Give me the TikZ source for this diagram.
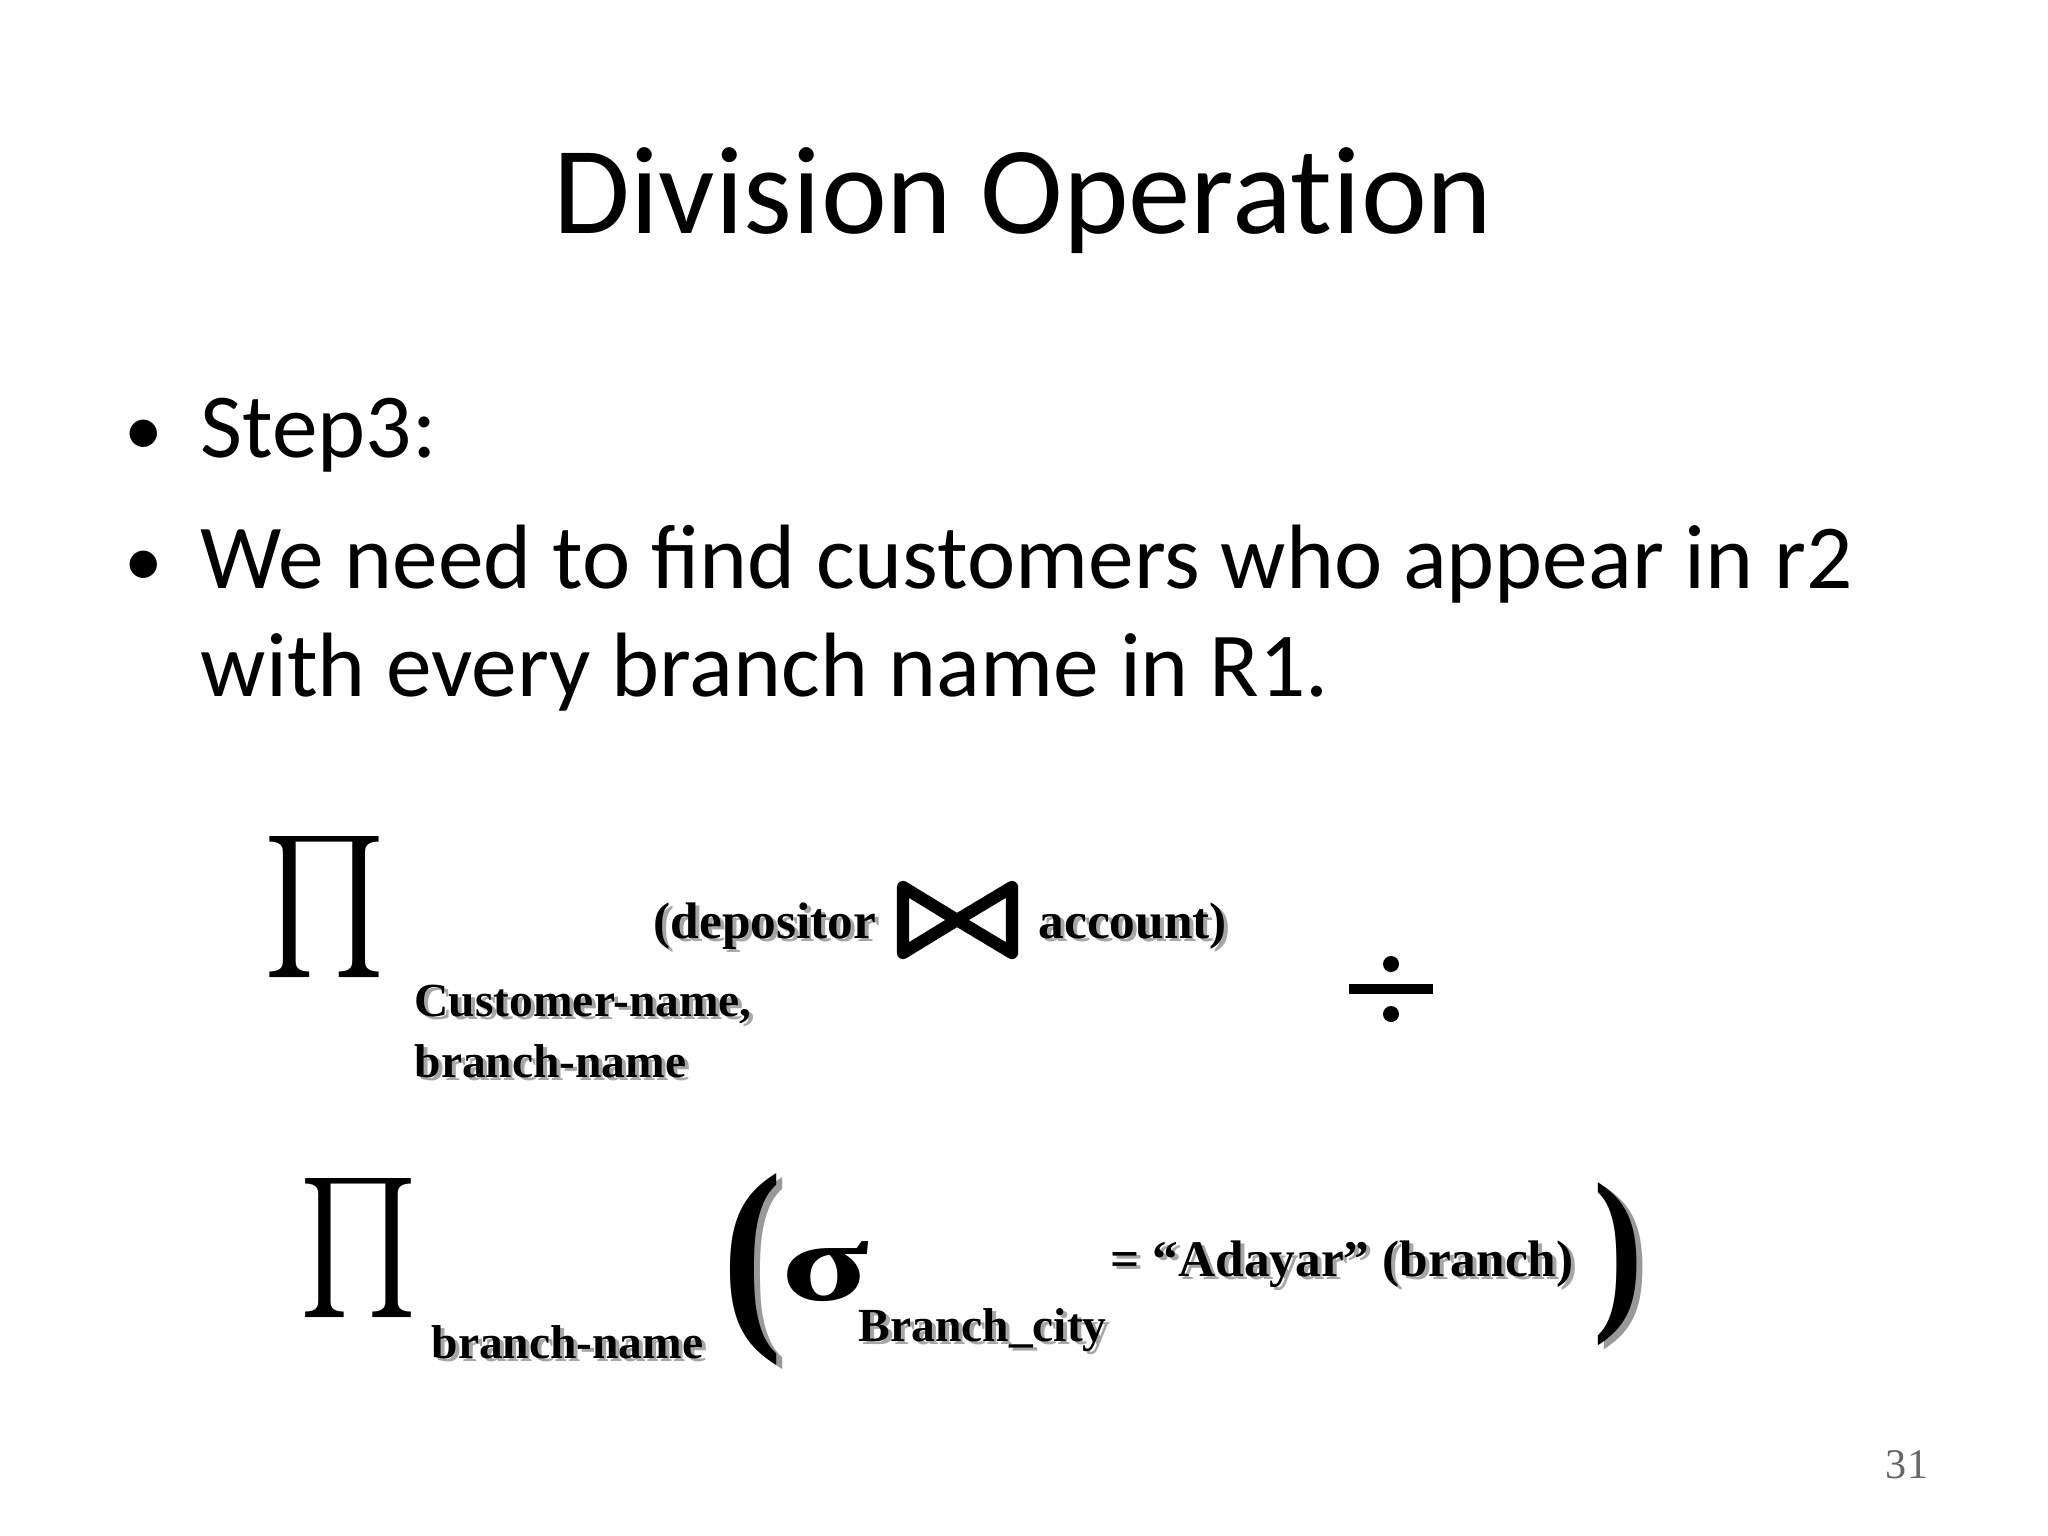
\documentclass[tikz,border=0pt]{standalone}
\usepackage{fontspec}
\setmainfont{Carlito}
\newfontfamily\tnr{Liberation Serif}
\newfontfamily\titlefont[RawFeature={-liga;-dlig;-clig}]{Carlito}
\begin{document}
\begin{tikzpicture}[x=0.01cm,y=-0.01cm,
  ftxt/.style={font=\tnr\bfseries\fontsize{13.5}{16}\selectfont,inner sep=0,anchor=base west},
  fshd/.style={ftxt,text=black!35},
  gtxt/.style={font=\tnr\bfseries\fontsize{14.6}{17}\selectfont,inner sep=0,anchor=base west},
  gshd/.style={gtxt,text=black!35},
  btxt/.style={font=\fontsize{26}{31}\selectfont,inner sep=0,anchor=base west},
  bul/.style={font=\fontsize{22}{26}\selectfont,inner sep=0,anchor=base west}]
\useasboundingbox (0,0) rectangle (2048,1536);
\node[font=\titlefont\fontsize{35.5}{43}\selectfont,inner sep=0,anchor=base] (title) at (1023,233) {Division Operation};
\node[bul] (b1) at (124,455) {•};
\node[btxt] (s1) at (200,457) {Step3:};
\node[bul] (b2) at (124,586) {•};
\node[btxt] (s2) at (200,588) {We need to find customers who appear in r2};
\node[btxt] (s3) at (200,696) {with every branch name in R1.};
% first line
\node[inner sep=0,anchor=north west] (pi1) at (262,836) {\resizebox*{1.24cm}{1.41cm}{$\prod$}};
\node[gshd] at (657,941) {(depositor};
\node[gtxt] (dep) at (653,938) {(depositor};
\begin{scope}[line width=3.5pt,line join=round]
\draw (903,887) -- (903,953) -- (957,920) -- cycle;
\draw (1012,887) -- (1012,953) -- (957,920) -- cycle;
\end{scope}
\node[gshd] at (1042,941) {account)};
\node[gtxt] (acc) at (1038,938) {account)};
\node[fshd] at (418,1019) {Customer-name,};
\node[ftxt] (cn) at (414,1016) {Customer-name,};
\node[fshd] at (418,1080) {branch-name};
\node[ftxt] (bn) at (414,1077) {branch-name};
\fill (1349,984) rectangle (1433,994);
\fill (1391,964) circle (8);
\fill (1391,1014) circle (8);
% second line
\node[inner sep=0,anchor=north west] (pi2) at (298,1178) {\resizebox*{1.2cm}{1.39cm}{$\prod$}};
\node[fshd] at (435,1361) {branch-name};
\node[ftxt] (bn2) at (431,1358) {branch-name};
\node[inner sep=0,anchor=north west,text=black!40] at (728,1177) {\resizebox*{0.6cm}{1.92cm}{\tnr\bfseries(}};
\node[inner sep=0,anchor=north west] (lp) at (722,1173) {\resizebox*{0.6cm}{1.92cm}{\tnr\bfseries(}};
\node[inner sep=0,anchor=north west] (sig) at (781,1241) {\resizebox*{0.88cm}{0.6cm}{\tnr\bfseries σ}};
\node[fshd] at (862,1344) {Branch\_city};
\node[ftxt] (bc) at (858,1341) {Branch\_city};
\node[gshd] at (1114,1279) {= “Adayar” (branch)};
\node[gtxt] (ad) at (1110,1276) {= “Adayar” (branch)};
\node[inner sep=0,anchor=north west,text=black!40] at (1599,1186) {\resizebox*{0.5cm}{1.63cm}{\tnr\bfseries)}};
\node[inner sep=0,anchor=north west] (rp) at (1593,1182) {\resizebox*{0.5cm}{1.63cm}{\tnr\bfseries)}};
\node[font=\tnr\fontsize{12}{14}\selectfont,text=black!60,inner sep=0,anchor=base] (pg) at (1907,1478) {31};
\end{tikzpicture}
\end{document}
